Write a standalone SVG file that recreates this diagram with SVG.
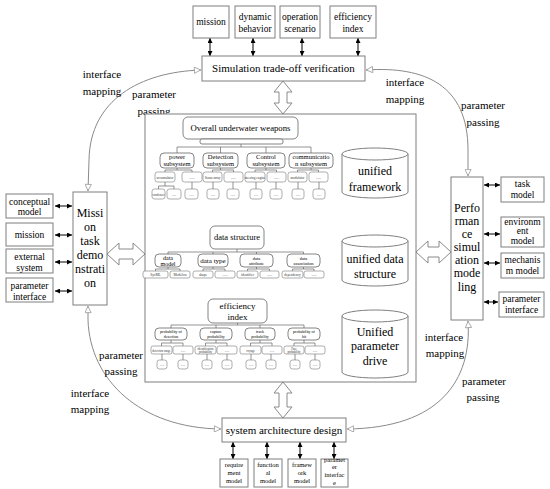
<svg xmlns="http://www.w3.org/2000/svg" width="550" height="489" viewBox="0 0 550 489">
<style>
.t{font-family:"Liberation Serif","Times New Roman",serif;fill:#000;text-anchor:middle}
.s{fill:#333}
.box{fill:#fff;stroke:#7f7f7f;stroke-width:1}
.rb{fill:#fff;stroke:#666;stroke-width:0.8}
.sb{fill:#fff;stroke:#777;stroke-width:0.6}
.ln{fill:none;stroke:#666;stroke-width:0.7}
.dbl{stroke:#000;stroke-width:1;marker-start:url(#ah);marker-end:url(#ah)}
.crv{fill:none;stroke:#8a8a8a;stroke-width:1;marker-start:url(#oh);marker-end:url(#oh)}
.hol{fill:#fff;stroke:#8a8a8a;stroke-width:1}
</style>
<defs>
<marker id="ah" viewBox="0 0 10 10" refX="10" refY="5" markerWidth="5" markerHeight="5" orient="auto-start-reverse"><path d="M0,0 L10,5 L0,10 z" fill="#000"/></marker>
<marker id="oh" viewBox="0 0 10 10" refX="10" refY="5" markerWidth="8" markerHeight="7" orient="auto-start-reverse"><path d="M0.5,0.5 L9.5,5 L0.5,9.5 z" fill="#fff" stroke="#8a8a8a" stroke-width="1"/></marker>
</defs>
<rect width="550" height="489" fill="#fff"/>

<g id="connectors">
<line class="dbl" x1="210" y1="38" x2="210" y2="56"/>
<line class="dbl" x1="253" y1="38" x2="253" y2="56"/>
<line class="dbl" x1="302" y1="38" x2="302" y2="56"/>
<line class="dbl" x1="358" y1="38" x2="358" y2="56"/>
<line class="dbl" x1="55" y1="206" x2="72" y2="206"/>
<line class="dbl" x1="55" y1="235" x2="72" y2="235"/>
<line class="dbl" x1="55" y1="262" x2="72" y2="262"/>
<line class="dbl" x1="55" y1="291" x2="72" y2="291"/>
<line class="dbl" x1="484" y1="185" x2="500" y2="185"/>
<line class="dbl" x1="484" y1="234" x2="500" y2="234"/>
<line class="dbl" x1="484" y1="263" x2="500" y2="263"/>
<line class="dbl" x1="484" y1="302" x2="498" y2="302"/>
<line class="dbl" x1="233" y1="442" x2="233" y2="459"/>
<line class="dbl" x1="267" y1="442" x2="267" y2="459"/>
<line class="dbl" x1="300" y1="442" x2="300" y2="459"/>
<line class="dbl" x1="334" y1="442" x2="334" y2="459"/>
<polygon class="hol" points="283,81 292,92 287,92 287,103 292,103 283,114 274,103 279,103 279,92 274,92"/>
<polygon class="hol" points="283,382 292,393 287,393 287,407 292,407 283,418 274,407 279,407 279,393 274,393"/>
<polygon class="hol" points="107,254 119,243 119,249 133,249 133,243 145,254 133,265 133,259 119,259 119,265"/>
<polygon class="hol" points="416,252 428,241 428,247 439,247 439,241 451,252 439,263 439,257 428,257 428,263"/>
<path class="crv" d="M201 70 C140 72 90 100 89 160 L88 191"/>
<path class="crv" d="M366 70 C425 66 468 85 468 150 L468 176"/>
<path class="crv" d="M88 306 L88 320 C90 380 140 428 221 429"/>
<path class="crv" d="M468 321 C472 380 440 428 347 429"/>
</g>

<g id="label-tl">
<text class="t" x="102" y="78" font-size="11">interface</text>
<text class="t" x="102" y="95" font-size="11">mapping</text>
<text class="t" x="154" y="98" font-size="11">parameter</text>
<text class="t" x="154" y="115" font-size="11">passing</text>
</g>
<g id="label-tr">
<text class="t" x="405" y="86" font-size="11">interface</text>
<text class="t" x="405" y="103" font-size="11">mapping</text>
<text class="t" x="483" y="109" font-size="11">parameter</text>
<text class="t" x="483" y="126" font-size="11">passing</text>
</g>
<g id="label-bl">
<text class="t" x="121" y="359" font-size="11">parameter</text>
<text class="t" x="121" y="375" font-size="11">passing</text>
<text class="t" x="90" y="397" font-size="11">interface</text>
<text class="t" x="90" y="413" font-size="11">mapping</text>
</g>
<g id="label-br">
<text class="t" x="444" y="341" font-size="11">interface</text>
<text class="t" x="445" y="357" font-size="11">mapping</text>
<text class="t" x="484" y="385" font-size="11">parameter</text>
<text class="t" x="483" y="401" font-size="11">passing</text>
</g>

<g id="top-mission"><rect class="box" x="193" y="6" width="36" height="32"/><text class="t" x="211" y="25" font-size="9.5">mission</text></g>
<g id="top-dynamic"><rect class="box" x="235" y="6" width="40" height="32"/><text class="t" x="255" y="20" font-size="9.5">dynamic</text><text class="t" x="255" y="32" font-size="9.5">behavior</text></g>
<g id="top-operation"><rect class="box" x="280" y="6" width="40" height="32"/><text class="t" x="300" y="20" font-size="9.5">operation</text><text class="t" x="300" y="32" font-size="9.5">scenario</text></g>
<g id="top-efficiency"><rect class="box" x="330" y="6" width="46" height="32"/><text class="t" x="353" y="20" font-size="9.5">efficiency</text><text class="t" x="353" y="32" font-size="9.5">index</text></g>

<g id="simulation"><rect class="box" x="202" y="56" width="163" height="25"/><text class="t" x="283.5" y="72" font-size="11">Simulation trade-off verification</text></g>

<g id="mission-task"><rect class="box" x="73" y="192" width="34" height="113"/>
<text class="t" x="90" y="217" font-size="12">Missi</text><text class="t" x="90" y="231" font-size="12">on</text><text class="t" x="90" y="245" font-size="12">task</text><text class="t" x="90" y="259" font-size="12">demo</text><text class="t" x="90" y="273" font-size="12">nstrati</text><text class="t" x="90" y="287" font-size="12">on</text></g>
<g id="left-conceptual"><rect class="box" x="6" y="194" width="47" height="24"/><text class="t" x="29.5" y="205" font-size="9.5">conceptual</text><text class="t" x="29.5" y="215" font-size="9.5">model</text></g>
<g id="left-mission"><rect class="box" x="6" y="223" width="47" height="23"/><text class="t" x="29.5" y="238" font-size="9.5">mission</text></g>
<g id="left-external"><rect class="box" x="6" y="249" width="47" height="24"/><text class="t" x="29.5" y="260" font-size="9.5">external</text><text class="t" x="29.5" y="271" font-size="9.5">system</text></g>
<g id="left-parameter"><rect class="box" x="6" y="278" width="47" height="24"/><text class="t" x="29.5" y="289" font-size="9.5">parameter</text><text class="t" x="29.5" y="300" font-size="9.5">interface</text></g>

<g id="performance"><rect class="box" x="451" y="177" width="32" height="143"/>
<text class="t" x="467" y="212" font-size="12">Perfo</text><text class="t" x="467" y="225" font-size="12">rman</text><text class="t" x="467" y="238" font-size="12">ce</text><text class="t" x="467" y="251" font-size="12">simul</text><text class="t" x="467" y="264" font-size="12">ation</text><text class="t" x="467" y="277" font-size="12">mode</text><text class="t" x="467" y="291" font-size="12">ling</text></g>
<g id="right-task"><rect class="box" x="501" y="177" width="43" height="25"/><text class="t" x="522.5" y="187" font-size="9.5">task</text><text class="t" x="522.5" y="198" font-size="9.5">model</text></g>
<g id="right-environment"><rect class="box" x="501" y="217" width="43" height="30"/><text class="t" x="522.5" y="225" font-size="9.5">environm</text><text class="t" x="522.5" y="234" font-size="9.5">ent</text><text class="t" x="522.5" y="244" font-size="9.5">model</text></g>
<g id="right-mechanism"><rect class="box" x="501" y="253" width="43" height="25"/><text class="t" x="522.5" y="263" font-size="9.5">mechanis</text><text class="t" x="522.5" y="274" font-size="9.5">m model</text></g>
<g id="right-parameter"><rect class="box" x="499" y="292" width="45" height="25"/><text class="t" x="521.5" y="302" font-size="9.5">parameter</text><text class="t" x="521.5" y="313" font-size="9.5">interface</text></g>

<g id="system-architecture"><rect class="box" x="222" y="418" width="124" height="24"/><text class="t" x="284" y="434" font-size="11">system architecture design</text></g>
<g id="bottom-requirement"><rect class="box" x="220" y="459" width="28" height="28"/><text class="t" x="234" y="467" font-size="6.5">require</text><text class="t" x="234" y="475" font-size="6.5">ment</text><text class="t" x="234" y="483" font-size="6.5">model</text></g>
<g id="bottom-functional"><rect class="box" x="254" y="459" width="28" height="28"/><text class="t" x="268" y="467" font-size="6.5">function</text><text class="t" x="268" y="475" font-size="6.5">al</text><text class="t" x="268" y="483" font-size="6.5">model</text></g>
<g id="bottom-framework"><rect class="box" x="288" y="459" width="28" height="28"/><text class="t" x="302" y="467" font-size="6.5">framew</text><text class="t" x="302" y="475" font-size="6.5">ork</text><text class="t" x="302" y="483" font-size="6.5">model</text></g>
<g id="bottom-parameter"><rect class="box" x="321" y="459" width="27" height="28"/><text class="t" x="334.5" y="462" font-size="6.5">paramet</text><text class="t" x="334.5" y="469" font-size="6.5">er</text><text class="t" x="334.5" y="477" font-size="6.5">interfac</text><text class="t" x="334.5" y="485" font-size="6.5">e</text></g>

<g id="panel">
<rect class="box" x="145" y="114" width="271" height="268"/>
</g>

<g id="framework-tree">
<rect class="rb" x="183" y="117" width="115" height="22" rx="5"/>
<text class="t" x="240.5" y="131" font-size="8.7">Overall underwater weapons</text>
<rect class="rb" x="200" y="139" width="83" height="5" rx="2"/>
<path class="ln" d="M241 144 V147 M177 147 H311 M177 147 V153 M220.5 147 V153 M266 147 V153 M311 147 V153"/>
<rect class="rb" x="160" y="153" width="34" height="15" rx="4"/><text class="t" x="177" y="159" font-size="6.5">power</text><text class="t" x="177" y="166" font-size="6.5">subsystem</text>
<rect class="rb" x="203" y="153" width="35" height="15" rx="4"/><text class="t" x="220.5" y="159" font-size="6.5">Detection</text><text class="t" x="220.5" y="166" font-size="6.5">subsystem</text>
<rect class="rb" x="247" y="153" width="38" height="15" rx="4"/><text class="t" x="266" y="159" font-size="6.5">Control</text><text class="t" x="266" y="166" font-size="6.5">subsystem</text>
<rect class="rb" x="289" y="153" width="44" height="15" rx="4"/><text class="t" x="311" y="159" font-size="6.5">communicatio</text><text class="t" x="311" y="166" font-size="6.5">n subsystem</text>
<path class="ln" d="M177 168 V170 M165 170 H192 M165 170 V172 M192 170 V172 M220.5 168 V170 M212.5 170 H233.5 M212.5 170 V172 M233.5 170 V172 M266 168 V170 M255 170 H276.5 M255 170 V172 M276.5 170 V172 M311 168 V170 M297.5 170 H318.5 M297.5 170 V172 M318.5 170 V172"/>
<rect class="sb" x="155" y="172" width="20" height="10" rx="2.5"/><text class="t s" x="165" y="178.5" font-size="3.4">accumulator</text>
<rect class="sb" x="182" y="172" width="20" height="10" rx="2.5"/><text class="t s" x="192" y="178.5" font-size="3.4">......</text>
<rect class="sb" x="203" y="172" width="19" height="10" rx="2.5"/><text class="t s" x="212.5" y="178.5" font-size="3.4">Sonar array</text>
<rect class="sb" x="224" y="172" width="19" height="10" rx="2.5"/><text class="t s" x="233.5" y="178.5" font-size="3.4">......</text>
<rect class="sb" x="245" y="172" width="20" height="10" rx="2.5"/><text class="t s" x="255" y="178.5" font-size="3.4">steering engine</text>
<rect class="sb" x="267" y="172" width="19" height="10" rx="2.5"/><text class="t s" x="276.5" y="178.5" font-size="3.4">......</text>
<rect class="sb" x="288" y="172" width="19" height="10" rx="2.5"/><text class="t s" x="297.5" y="178.5" font-size="3.4">modulator</text>
<rect class="sb" x="309" y="172" width="19" height="10" rx="2.5"/><text class="t s" x="318.5" y="178.5" font-size="3.4">......</text>
<path class="ln" d="M165 182 V186 M158.5 186 H174 M158.5 186 V189 M174 186 V189 M192 182 V189 M213 182 V189 M233 182 V189 M256 182 V189 M276 182 V189 M298 182 V189 M319 182 V189"/>
<rect class="sb" x="152" y="189" width="13" height="10" rx="2.5"/><text class="t s" x="158.5" y="195.5" font-size="3">condenser</text>
<rect class="sb" x="167" y="189" width="14" height="10" rx="2.5"/><text class="t s" x="174" y="195.5" font-size="3">......</text>
<rect class="sb" x="185" y="189" width="13" height="10" rx="2.5"/><text class="t s" x="191.5" y="195.5" font-size="3">......</text>
<rect class="sb" x="207" y="189" width="12" height="10" rx="2.5"/><text class="t s" x="213" y="195.5" font-size="3">......</text>
<rect class="sb" x="227" y="189" width="12" height="10" rx="2.5"/><text class="t s" x="233" y="195.5" font-size="3">......</text>
<rect class="sb" x="250" y="189" width="12" height="10" rx="2.5"/><text class="t s" x="256" y="195.5" font-size="3">......</text>
<rect class="sb" x="270" y="189" width="12" height="10" rx="2.5"/><text class="t s" x="276" y="195.5" font-size="3">......</text>
<rect class="sb" x="292" y="189" width="12" height="10" rx="2.5"/><text class="t s" x="298" y="195.5" font-size="3">......</text>
<rect class="sb" x="313" y="189" width="12" height="10" rx="2.5"/><text class="t s" x="319" y="195.5" font-size="3">......</text>
</g>

<g id="data-tree">
<rect class="rb" x="210" y="226" width="54" height="23" rx="5"/>
<text class="t" x="237" y="240" font-size="8.5">data structure</text>
<path class="ln" d="M237 249 V252 M168 252 H303.5 M168 252 V254 M213 252 V254 M256.5 252 V254 M303.5 252 V254"/>
<rect class="rb" x="155" y="254" width="26" height="13" rx="4"/><text class="t" x="168" y="259.5" font-size="6">data</text><text class="t" x="168" y="266" font-size="6">model</text>
<rect class="rb" x="198" y="254" width="30" height="13" rx="4"/><text class="t" x="213" y="263" font-size="7">data type</text>
<rect class="rb" x="240" y="254" width="33" height="13" rx="4"/><text class="t" x="256.5" y="259.5" font-size="4.5">data</text><text class="t" x="256.5" y="265" font-size="4.5">attribute</text>
<rect class="rb" x="287" y="254" width="33" height="13" rx="4"/><text class="t" x="303.5" y="259.5" font-size="4.5">data</text><text class="t" x="303.5" y="265" font-size="4.5">association</text>
<path class="ln" d="M168 267 V269 M155.5 269 H180 M155.5 269 V271 M180 269 V271 M213 267 V269 M203 269 H225 M203 269 V271 M225 269 V271 M256.5 267 V269 M247.5 269 H269.5 M247.5 269 V271 M269.5 269 V271 M303.5 267 V269 M292.5 269 H314 M292.5 269 V271 M314 269 V271"/>
<rect class="sb" x="143" y="271" width="25" height="7" rx="2"/><text class="t s" x="155.5" y="276" font-size="3.5">SysML</text>
<rect class="sb" x="170" y="271" width="20" height="7" rx="2"/><text class="t s" x="180" y="276" font-size="3.5">Modelica</text>
<rect class="sb" x="193" y="271" width="20" height="7" rx="2"/><text class="t s" x="203" y="276" font-size="3.5">shape</text>
<rect class="sb" x="215" y="271" width="20" height="7" rx="2"/><text class="t s" x="225" y="276" font-size="3.5">......</text>
<rect class="sb" x="237" y="271" width="21" height="7" rx="2"/><text class="t s" x="247.5" y="276" font-size="3.5">identifier</text>
<rect class="sb" x="260" y="271" width="19" height="7" rx="2"/><text class="t s" x="269.5" y="276" font-size="3.5">......</text>
<rect class="sb" x="282" y="271" width="21" height="7" rx="2"/><text class="t s" x="292.5" y="276" font-size="3.5">dependency</text>
<rect class="sb" x="304" y="271" width="20" height="7" rx="2"/><text class="t s" x="314" y="276" font-size="3.5">......</text>
</g>

<g id="efficiency-tree">
<rect class="rb" x="208" y="299" width="59" height="24" rx="5"/>
<text class="t" x="237.5" y="309" font-size="9">efficiency</text><text class="t" x="237.5" y="320" font-size="9">index</text>
<path class="ln" d="M237.5 323 V325 M171 325 H304 M171 325 V328 M216 325 V328 M260 325 V328 M304 325 V328"/>
<rect class="rb" x="155" y="328" width="32" height="12" rx="4"/><text class="t" x="171" y="333" font-size="4">probability of</text><text class="t" x="171" y="338" font-size="4">detection</text>
<rect class="rb" x="200" y="328" width="32" height="12" rx="4"/><text class="t" x="216" y="333" font-size="4">capture</text><text class="t" x="216" y="338" font-size="4">probability</text>
<rect class="rb" x="245" y="328" width="30" height="12" rx="4"/><text class="t" x="260" y="333" font-size="4">track</text><text class="t" x="260" y="338" font-size="4">probability</text>
<rect class="rb" x="288" y="328" width="32" height="12" rx="4"/><text class="t" x="304" y="333" font-size="4">probability of</text><text class="t" x="304" y="338" font-size="4">hit</text>
<path class="ln" d="M171 340 V343 M161.5 343 H183 M161.5 343 V346 M183 343 V346 M216 340 V343 M205.5 343 H227 M205.5 343 V346 M227 343 V346 M260 340 V343 M250.5 343 H272 M250.5 343 V346 M272 343 V346 M304 340 V343 M294 343 H315 M294 343 V346 M315 343 V346"/>
<rect class="sb" x="151" y="346" width="21" height="8" rx="2"/><text class="t s" x="161.5" y="351.5" font-size="3">detection range</text>
<rect class="sb" x="173" y="346" width="20" height="8" rx="2"/><text class="t s" x="183" y="351.5" font-size="3">......</text>
<rect class="sb" x="195" y="346" width="21" height="8" rx="2"/><text class="t s" x="205.5" y="349.8" font-size="3">identification</text><text class="t s" x="205.5" y="353" font-size="3">probability</text>
<rect class="sb" x="217" y="346" width="20" height="8" rx="2"/><text class="t s" x="227" y="351.5" font-size="3">......</text>
<rect class="sb" x="240" y="346" width="21" height="8" rx="2"/><text class="t s" x="250.5" y="351.5" font-size="3">voyage</text>
<rect class="sb" x="262" y="346" width="20" height="8" rx="2"/><text class="t s" x="272" y="351.5" font-size="3">......</text>
<rect class="sb" x="284" y="346" width="20" height="8" rx="2"/><text class="t s" x="294" y="349.8" font-size="3">Fuse</text><text class="t s" x="294" y="353" font-size="3">probability</text>
<rect class="sb" x="305" y="346" width="20" height="8" rx="2"/><text class="t s" x="315" y="351.5" font-size="3">......</text>
<path class="ln" d="M162 354 V360 M183 354 V360 M207 354 V360 M227 354 V360 M251 354 V360 M271 354 V360 M295 354 V360 M315 354 V360"/>
<rect class="sb" x="157" y="360" width="10" height="9" rx="2.5"/><text class="t s" x="162" y="366" font-size="3">......</text>
<rect class="sb" x="178" y="360" width="10" height="9" rx="2.5"/><text class="t s" x="183" y="366" font-size="3">......</text>
<rect class="sb" x="202" y="360" width="10" height="9" rx="2.5"/><text class="t s" x="207" y="366" font-size="3">......</text>
<rect class="sb" x="222" y="360" width="10" height="9" rx="2.5"/><text class="t s" x="227" y="366" font-size="3">......</text>
<rect class="sb" x="246" y="360" width="10" height="9" rx="2.5"/><text class="t s" x="251" y="366" font-size="3">......</text>
<rect class="sb" x="266" y="360" width="10" height="9" rx="2.5"/><text class="t s" x="271" y="366" font-size="3">......</text>
<rect class="sb" x="290" y="360" width="10" height="9" rx="2.5"/><text class="t s" x="295" y="366" font-size="3">......</text>
<rect class="sb" x="310" y="360" width="10" height="9" rx="2.5"/><text class="t s" x="315" y="366" font-size="3">......</text>
</g>

<g id="cyl-framework">
<path class="box" d="M342 154 A33 6 0 0 1 408 154 L408 192 A33 6 0 0 1 342 192 Z"/><path class="box" fill="none" d="M342 154 A33 6 0 0 0 408 154"/>
<text class="t" x="375" y="175" font-size="12">unified</text><text class="t" x="375" y="191" font-size="12">framework</text>
</g>
<g id="cyl-data">
<path class="box" d="M342 241 A33 6 0 0 1 408 241 L408 280 A33 6 0 0 1 342 280 Z"/><path class="box" fill="none" d="M342 241 A33 6 0 0 0 408 241"/>
<text class="t" x="375" y="263" font-size="12">unified data</text><text class="t" x="375" y="278" font-size="12">structure</text>
</g>
<g id="cyl-parameter">
<path class="box" d="M342 316 A33 6 0 0 1 408 316 L408 372 A33 6 0 0 1 342 372 Z"/><path class="box" fill="none" d="M342 316 A33 6 0 0 0 408 316"/>
<text class="t" x="375" y="336" font-size="12">Unified</text><text class="t" x="375" y="350" font-size="12">parameter</text><text class="t" x="375" y="365" font-size="12">drive</text>
</g>
</svg>
